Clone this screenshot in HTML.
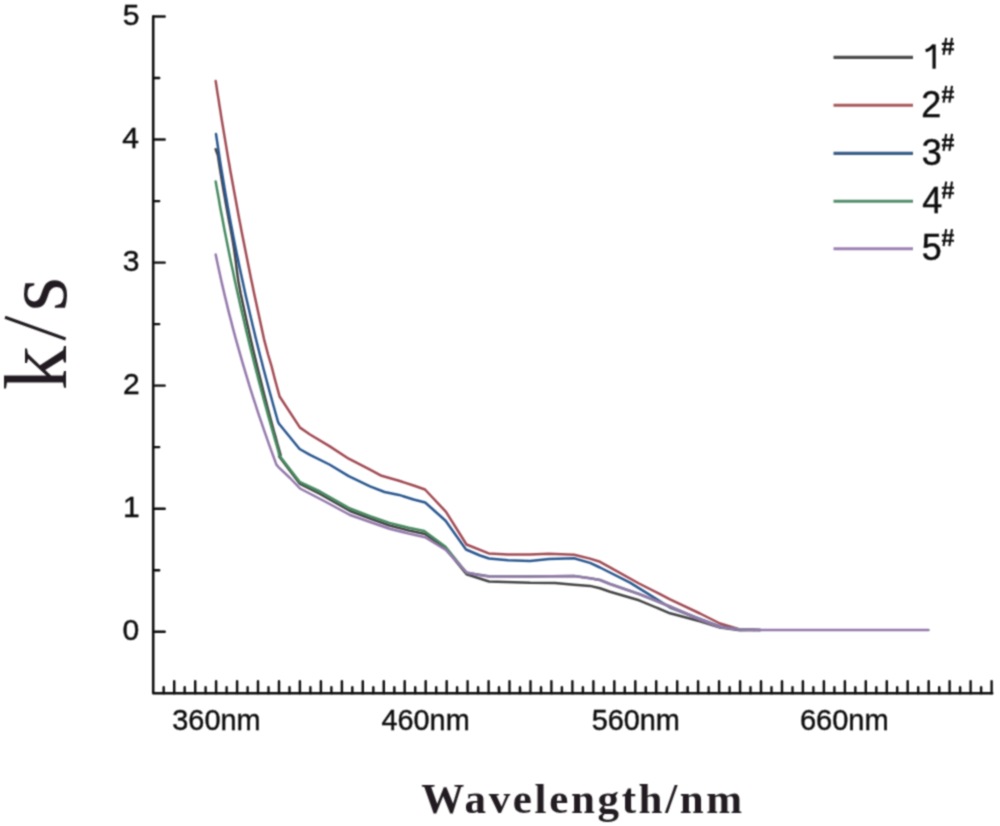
<!DOCTYPE html>
<html><head><meta charset="utf-8"><style>
html,body{margin:0;padding:0;background:#fff;width:1000px;height:826px;overflow:hidden}
svg{display:block}
.tk{font-family:"Liberation Sans",sans-serif;font-size:30px;fill:#101010;stroke:#101010;stroke-width:0.45px}
.lg{font-family:"Liberation Sans",sans-serif;font-size:36px;fill:#101010;stroke:#101010;stroke-width:0.45px}
.sh{font-family:"Liberation Sans",sans-serif;font-size:24.8px;fill:#101010;stroke:#101010;stroke-width:0.7px}
.xt{font-family:"Liberation Serif",serif;font-size:43px;font-weight:bold;fill:#231f20}
.yt{font-family:"Liberation Serif",serif;font-size:88.6px;fill:#231f20}
</style></head><body>
<svg width="1000" height="826" viewBox="0 0 1000 826"><defs><filter id="bl" x="0" y="0" width="1000" height="826" filterUnits="userSpaceOnUse"><feConvolveMatrix order="3" kernelMatrix="1 2 1 2 6 2 1 2 1" divisor="18" edgeMode="none"/></filter></defs><rect width="1000" height="826" fill="#fff"/><g filter="url(#bl)">
<path d="M153.2 16.5V693.3H992.2" fill="none" stroke="#0c0c0c" stroke-width="2.5" stroke-linejoin="round" stroke-linecap="round"/>
<path d="M153.2 631.7H164.7M153.2 570.2H159.2M153.2 508.7H164.7M153.2 447.1H159.2M153.2 385.6H164.7M153.2 324.1H159.2M153.2 262.6H164.7M153.2 201.1H159.2M153.2 139.5H164.7M153.2 78.0H159.2M153.2 16.5H164.7M163.7 693.3V687.3M174.2 693.3V681.3M184.7 693.3V687.3M195.2 693.3V681.3M205.6 693.3V687.3M216.1 693.3V681.3M226.6 693.3V687.3M237.1 693.3V681.3M247.6 693.3V687.3M258.0 693.3V681.3M268.5 693.3V687.3M279.0 693.3V681.3M289.5 693.3V687.3M299.9 693.3V681.3M310.4 693.3V687.3M320.9 693.3V681.3M331.4 693.3V687.3M341.9 693.3V681.3M352.3 693.3V687.3M362.8 693.3V681.3M373.3 693.3V687.3M383.8 693.3V681.3M394.3 693.3V687.3M404.7 693.3V681.3M415.2 693.3V687.3M425.7 693.3V681.3M436.2 693.3V687.3M446.7 693.3V681.3M457.1 693.3V687.3M467.6 693.3V681.3M478.1 693.3V687.3M488.6 693.3V681.3M499.0 693.3V687.3M509.5 693.3V681.3M520.0 693.3V687.3M530.5 693.3V681.3M541.0 693.3V687.3M551.4 693.3V681.3M561.9 693.3V687.3M572.4 693.3V681.3M582.9 693.3V687.3M593.4 693.3V681.3M603.8 693.3V687.3M614.3 693.3V681.3M624.8 693.3V687.3M635.3 693.3V681.3M645.8 693.3V687.3M656.2 693.3V681.3M666.7 693.3V687.3M677.2 693.3V681.3M687.7 693.3V687.3M698.1 693.3V681.3M708.6 693.3V687.3M719.1 693.3V681.3M729.6 693.3V687.3M740.1 693.3V681.3M750.5 693.3V687.3M761.0 693.3V681.3M771.5 693.3V687.3M782.0 693.3V681.3M792.5 693.3V687.3M802.9 693.3V681.3M813.4 693.3V687.3M823.9 693.3V681.3M834.4 693.3V687.3M844.9 693.3V681.3M855.3 693.3V687.3M865.8 693.3V681.3M876.3 693.3V687.3M886.8 693.3V681.3M897.2 693.3V687.3M907.7 693.3V681.3M918.2 693.3V687.3M928.7 693.3V681.3M939.2 693.3V687.3M949.6 693.3V681.3M960.1 693.3V687.3M970.6 693.3V681.3M981.1 693.3V687.3M991.6 693.3V681.3" fill="none" stroke="#0c0c0c" stroke-width="2.4" stroke-linecap="round"/>
<polyline fill="none" stroke="#444444" stroke-width="2.50" stroke-linejoin="round" stroke-linecap="round" points="215.7,149.2 217.9,155.2 218.8,161.2 219.7,167.2 220.7,173.2 221.7,179.2 222.7,185.2 223.7,191.2 224.8,197.2 225.8,203.2 226.9,209.2 228.0,215.2 229.1,221.2 230.3,227.2 231.4,233.2 232.5,239.2 233.5,245.2 234.4,251.2 235.2,257.2 236.0,263.2 236.7,269.2 237.5,275.2 238.4,281.2 239.5,287.2 240.6,293.2 241.9,299.2 243.2,305.2 244.5,311.2 245.8,317.2 247.1,323.2 248.5,329.2 249.8,335.2 251.2,341.2 252.6,347.2 254.0,353.2 255.5,359.2 256.9,365.2 258.4,371.2 259.9,377.2 261.4,383.2 262.9,389.2 264.4,395.2 266.0,401.2 267.5,407.2 269.1,413.2 270.7,419.2 272.3,425.2 273.9,431.2 275.6,437.2 277.2,443.2 278.9,449.2 280.6,455.2 279.2,456.5 299.6,483.6 320.0,494.0 350.0,511.0 370.0,518.5 389.4,525.5 408.7,530.5 425.0,534.0 445.5,548.5 466.5,574.2 489.0,581.5 530.0,582.8 555.0,583.0 574.0,584.7 590.0,585.9 600.0,588.3 610.0,591.8 639.0,600.3 670.0,613.3 700.0,621.2 720.0,627.5 740.0,630.2 755.0,629.9"/>
<polyline fill="none" stroke="#a24c54" stroke-width="2.50" stroke-linejoin="round" stroke-linecap="round" points="215.7,81.1 216.6,87.1 217.5,93.1 218.5,99.1 219.4,105.1 220.4,111.1 221.3,117.1 222.3,123.1 223.3,129.1 224.3,135.1 225.3,141.1 226.3,147.1 227.3,153.1 228.3,159.1 229.4,165.1 230.4,171.1 231.5,177.1 232.6,183.1 233.7,189.1 234.8,195.1 235.9,201.1 237.0,207.1 238.1,213.1 239.2,219.1 240.4,225.1 241.5,231.1 242.7,237.1 243.9,243.1 245.1,249.1 246.3,255.1 247.5,261.1 248.7,267.1 249.9,273.1 251.1,279.1 252.4,285.1 253.6,291.1 254.9,297.1 256.2,303.1 257.5,309.1 258.8,315.1 260.1,321.1 261.4,327.1 262.7,333.1 264.0,339.1 268.2,355.0 271.5,366.0 274.8,379.0 279.6,396.5 300.0,427.6 310.0,434.5 329.4,446.1 348.7,458.7 370.0,469.6 381.6,475.8 399.0,480.8 413.6,485.5 425.0,489.5 446.0,511.8 466.5,544.5 488.7,553.4 508.0,554.4 530.0,554.6 549.0,553.8 574.2,554.7 590.0,558.6 600.0,561.8 610.0,567.4 639.0,583.5 660.0,594.2 670.0,599.4 700.0,613.5 720.0,623.5 740.0,629.4 760.0,629.9"/>
<polyline fill="none" stroke="#2c5890" stroke-width="2.50" stroke-linejoin="round" stroke-linecap="round" points="216.0,134.0 216.9,140.0 217.8,146.0 218.7,152.0 219.6,158.0 220.5,164.0 221.5,170.0 222.5,176.0 223.5,182.0 224.5,188.0 225.5,194.0 226.6,200.0 227.6,206.0 228.7,212.0 229.8,218.0 230.9,224.0 232.1,230.0 233.2,236.0 234.4,242.0 235.6,248.0 236.8,254.0 238.1,260.0 239.3,266.0 240.6,272.0 241.9,278.0 243.2,284.0 244.5,290.0 245.8,296.0 247.2,302.0 248.6,308.0 250.0,314.0 251.4,320.0 252.8,326.0 254.3,332.0 255.7,338.0 257.2,344.0 258.7,350.0 260.2,356.0 261.8,362.0 263.3,368.0 264.9,374.0 266.5,380.0 268.1,386.0 269.7,392.0 271.4,398.0 273.0,404.0 274.7,410.0 276.4,416.0 278.1,422.0 279.0,423.7 299.6,449.0 310.0,454.8 329.4,464.5 348.7,476.1 370.0,486.3 384.5,492.0 399.0,494.9 413.6,499.5 425.2,502.5 445.6,520.8 466.0,549.5 480.0,555.5 489.0,558.5 508.0,560.2 530.0,561.0 549.0,559.0 574.0,558.3 590.0,562.9 600.0,567.5 630.0,582.6 670.0,607.5 700.0,619.0 720.0,626.5 740.0,629.7 760.0,629.9"/>
<polyline fill="none" stroke="#478a60" stroke-width="2.50" stroke-linejoin="round" stroke-linecap="round" points="215.7,181.6 216.7,187.6 217.8,193.6 218.9,199.6 219.9,205.6 221.0,211.6 222.2,217.6 223.3,223.6 224.4,229.6 225.6,235.6 226.8,241.6 228.0,247.6 229.2,253.6 230.4,259.6 231.7,265.6 233.0,271.6 234.2,277.6 235.5,283.6 236.8,289.6 238.2,295.6 239.5,301.6 240.9,307.6 242.3,313.6 243.7,319.6 245.1,325.6 246.5,331.6 248.0,337.6 249.4,343.6 250.9,349.6 252.4,355.6 253.9,361.6 255.4,367.6 257.0,373.6 258.5,379.6 260.1,385.6 261.7,391.6 263.3,397.6 264.9,403.6 266.6,409.6 268.2,415.6 269.9,421.6 271.6,427.6 273.3,433.6 275.0,439.6 276.8,445.6 278.5,451.6 279.2,455.2 299.6,481.8 320.0,491.5 350.0,508.5 370.0,516.1 389.4,522.9 408.7,527.8 424.2,530.9 445.5,546.8 466.5,572.8 489.0,576.2 530.0,576.5 574.0,576.0 590.0,578.2 600.0,580.0 610.0,584.0 639.0,594.0 670.0,606.5 700.0,619.5 720.0,627.0 740.0,629.4 760.0,629.9"/>
<polyline fill="none" stroke="#9479ac" stroke-width="2.50" stroke-linejoin="round" stroke-linecap="round" points="215.7,254.6 216.9,260.6 218.2,266.6 219.5,272.6 220.8,278.6 222.2,284.6 223.6,290.6 225.0,296.6 226.5,302.6 227.9,308.6 229.4,314.6 231.0,320.6 232.5,326.6 234.1,332.6 235.7,338.6 237.4,344.6 239.1,350.6 240.8,356.6 242.5,362.6 244.3,368.6 246.1,374.6 247.9,380.6 249.7,386.6 251.6,392.6 253.5,398.6 255.5,404.6 257.4,410.6 259.4,416.6 261.5,422.6 263.5,428.6 265.6,434.6 267.7,440.6 269.8,446.6 272.0,452.6 274.2,458.6 276.4,464.6 278.2,466.8 290.0,478.0 300.0,488.5 325.0,501.5 350.0,515.0 370.0,522.0 389.4,528.7 408.7,533.6 425.0,537.3 445.5,549.7 466.8,572.5 480.0,575.3 489.0,576.4 530.0,576.5 574.0,576.0 590.0,578.2 600.0,580.0 610.0,584.0 639.0,594.0 670.0,606.5 700.0,619.5 720.0,627.0 740.0,629.4 760.0,629.9 928.5,629.9"/>
<line x1="833.5" y1="57.4" x2="913" y2="57.4" stroke="#4e4e4e" stroke-width="3.1"/>
<path d="M934.1 44.4V68.7" stroke="#101010" stroke-width="3.3" fill="none"/><path d="M933.6 45.2C931.5 48.2 928.5 50.2 925.6 50.8" stroke="#101010" stroke-width="3.1" fill="none"/>
<path d="M946.2 37.9L943.6 54.8M952 37.9L949.4 54.8M941.9 43.9H954 M941.9 49.4H954" stroke="#101010" stroke-width="2.1" fill="none"/>
<line x1="833.5" y1="105.3" x2="913" y2="105.3" stroke="#a95a5c" stroke-width="3.1"/>
<text transform="translate(921.29 116.60) scale(1.000 1)" class="lg">2</text>
<path d="M946.2 85.8L943.6 102.7M952 85.8L949.4 102.7M941.9 91.8H954 M941.9 97.3H954" stroke="#101010" stroke-width="2.1" fill="none"/>
<line x1="833.5" y1="153.4" x2="913" y2="153.4" stroke="#3a5e89" stroke-width="3.1"/>
<text transform="translate(921.73 164.70) scale(1.000 1)" class="lg">3</text>
<path d="M946.2 133.9L943.6 150.8M952 133.9L949.4 150.8M941.9 139.9H954 M941.9 145.4H954" stroke="#101010" stroke-width="2.1" fill="none"/>
<line x1="833.5" y1="201.2" x2="913" y2="201.2" stroke="#528e6a" stroke-width="3.1"/>
<text transform="translate(922.27 212.50) scale(1.000 1)" class="lg">4</text>
<path d="M946.2 181.7L943.6 198.6M952 181.7L949.4 198.6M941.9 187.7H954 M941.9 193.2H954" stroke="#101010" stroke-width="2.1" fill="none"/>
<line x1="833.5" y1="248.7" x2="913" y2="248.7" stroke="#9d82b2" stroke-width="3.1"/>
<text transform="translate(921.66 260.00) scale(1.000 1)" class="lg">5</text>
<path d="M946.2 229.2L943.6 246.1M952 229.2L949.4 246.1M941.9 235.2H954 M941.9 240.7H954" stroke="#101010" stroke-width="2.1" fill="none"/>
<text transform="translate(122.59 640.00) scale(1.000 1)" class="tk">0</text>
<text transform="translate(122.88 516.96) scale(1.000 1)" class="tk">1</text>
<text transform="translate(122.92 393.92) scale(1.000 1)" class="tk">2</text>
<text transform="translate(122.73 270.88) scale(1.000 1)" class="tk">3</text>
<text transform="translate(122.29 147.84) scale(1.000 1)" class="tk">4</text>
<text transform="translate(122.68 24.80) scale(1.000 1)" class="tk">5</text>
<text transform="translate(172.30 730.00) scale(0.962 1)" class="tk">360nm</text>
<text transform="translate(381.54 730.00) scale(0.961 1)" class="tk">460nm</text>
<text transform="translate(591.64 730.00) scale(0.962 1)" class="tk">560nm</text>
<text transform="translate(799.93 730.00) scale(0.968 1)" class="tk">660nm</text>
<text x="421.19" y="812.8" class="xt" style="letter-spacing:2.661px">Wavelength/nm</text>
<g transform="translate(66 0) rotate(-90)"><text x="-390.29" y="0" class="yt">k</text><text x="-311.43" y="0" class="yt">s</text></g><path d="M5.0 317.3L65.6 339.0" stroke="#231f20" stroke-width="3.1" fill="none"/>
</g></svg></body></html>
